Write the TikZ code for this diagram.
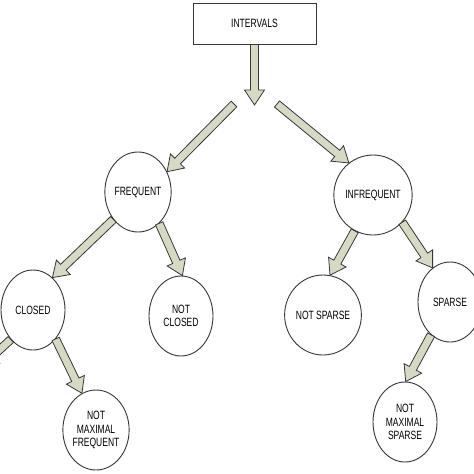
\documentclass[tikz,border=0pt]{standalone}
\usepackage{fontspec}
\setmainfont{Liberation Sans}[FakeStretch=0.71]
\usetikzlibrary{calc,shapes.geometric}
\definecolor{arrfill}{RGB}{214,218,196}
\definecolor{edgec}{RGB}{55,55,55}
\tikzset{
  fatarrow/.style={draw=edgec, fill=arrfill, line width=0.8pt, line join=miter},
  oval/.style={ellipse, draw=edgec, line width=0.9pt, fill=white, minimum width=64pt, minimum height=80pt, inner sep=0pt, align=center, font=\fontsize{12}{13.5}\selectfont},
  topbox/.style={draw=edgec, line width=0.9pt, fill=white, minimum width=123pt, minimum height=41pt, inner sep=0pt, font=\fontsize{12}{13.5}\selectfont}
}
\newcommand\fatarr[2]{%
  \coordinate (fah) at ($(#2)!15pt!(#1)$);
  \draw[fatarrow] ($(#1)!4pt!90:(#2)$) -- ($(fah)!4pt!90:(#2)$) -- ($(fah)!10pt!90:(#2)$) -- (#2) -- ($(fah)!10pt!-90:(#2)$) -- ($(fah)!4pt!-90:(#2)$) -- ($(#1)!4pt!-90:(#2)$) -- cycle;}
\begin{document}
\begin{tikzpicture}[x=1pt,y=-1pt]
\useasboundingbox (0,0) rectangle (474,474);
\fill[white] (0,0) rectangle (474,474);
\clip (0,0) rectangle (474,474);
\node[topbox] (intv) at (254.5,23.5) {INTERVALS};
\node[oval] (freq) at (138,192) {FREQUENT};
\node[oval] (infreq) at (373,195) {INFREQUENT};
\node[oval] (closed) at (33,310) {CLOSED};
\node[oval] (nclosed) at (181,316) {NOT\\CLOSED};
\node[oval] (nmf) at (96,430) {NOT\\MAXIMAL\\FREQUENT};
\node[oval] (nsparse) at (323,315) {NOT SPARSE};
\node[oval] (sparse) at (450,302) {SPARSE};
\node[oval] (nms) at (405,422) {NOT\\MAXIMAL\\SPARSE};
\coordinate (split) at (254.5,105);
\coordinate (sl) at (234,104);
\coordinate (sr) at (277,104);
\coordinate (offl) at (-18,366);
\fatarr{intv.south}{split}
\fatarr{sl}{freq.35}
\fatarr{sr}{infreq.127}
\fatarr{freq.228}{closed.59}
\fatarr{freq.304}{nclosed.88}
\fatarr{closed.308}{nmf.111}
\fatarr{closed.233}{offl}
\fatarr{infreq.243}{nsparse.80}
\fatarr{infreq.317}{sparse.117}
\fatarr{sparse.240}{nms.89}
\end{tikzpicture}
\end{document}
